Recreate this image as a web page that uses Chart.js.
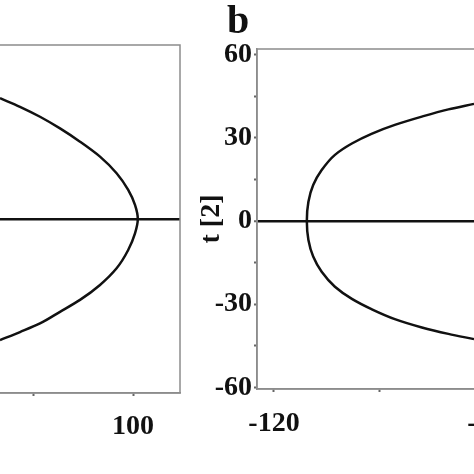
<!DOCTYPE html>
<html>
<head>
<meta charset="utf-8">
<script src="https://cdn.jsdelivr.net/npm/chart.js@4.4.1/dist/chart.umd.min.js"></script>
<style>
  html, body { margin: 0; padding: 0; width: 474px; height: 474px; overflow: hidden; background: #fff; }
  #wrap { position: relative; width: 474px; height: 474px; overflow: hidden; }
  canvas { position: absolute; top: 0; }
  #cL { left: -160px; }
  #cR { left: 180px; }
</style>
</head>
<body>
<div id="wrap">
  <canvas id="cL" width="350" height="474"></canvas>
  <canvas id="cR" width="360" height="474"></canvas>
</div>
<script>
// ---- Panel a (left, partially visible) ----
const leftX = [66.75, 71.75, 76.75, 81.75, 86.75, 91.75, 95.9, 98.8, 100.5, 101.2, 100.5, 98.8, 95.9, 91.75, 86.75, 81.75, 76.75, 71.75, 66.75];
const leftT = [43.6, 40.5, 36.9, 32.7, 27.9, 22.5, 16.5, 10.5, 5.1, 0, -5.2, -11.2, -17.8, -23.8, -29.2, -33.5, -37.7, -40.8, -43.7];
const leftXLabels = [50, 100];

// ---- Panel b (right) ----
const rightX = [-82.26, -87.1, -92.1, -97.2, -101.6, -105.3, -108.5, -111.0, -112.6, -113.5, -113.8, -113.5, -112.6, -111.0, -108.5, -105.3, -101.6, -97.2, -92.1, -87.1, -82.26];
const rightT = [42.3, 40.3, 37.7, 34.7, 31.5, 28.0, 23.9, 18.4, 13.0, 7.0, 0, -6.8, -12.8, -18.3, -23.7, -28.1, -31.8, -35.4, -38.4, -40.7, -42.6];
const rightXLabels = [-120, -80];

const tLabels = [-60, -30, 0, 30, 60];
const panelLetter = 'b';
const yTitle = 't [2]';

const FONT = '"Liberation Serif", "Times New Roman", serif';
const INK = '#111';
const AXIS = '#8c8c8c';

function pts(xs, ys) { return xs.map((x, i) => ({ x: x, y: ys[i] })); }

const framePlugin = {
  id: 'frame',
  beforeDatasetsDraw(chart) {
    const a = chart.chartArea, ctx = chart.ctx;
    ctx.save();
    ctx.strokeStyle = AXIS;
    ctx.lineWidth = 1.5;
    ctx.strokeRect(a.left, a.top, a.right - a.left, a.bottom - a.top);
    ctx.restore();
  }
};

function makeOptions(cfg) {
  return {
    responsive: false,
    animation: false,
    devicePixelRatio: 1,
    layout: { padding: cfg.padding },
    plugins: { legend: { display: false }, tooltip: { enabled: false }, title: { display: false } },
    scales: {
      x: {
        type: 'linear',
        min: cfg.xmin, max: cfg.xmax,
        afterFit(s) { s.height = cfg.xHeight; },
        border: { display: true, color: AXIS, width: 1.5 },
        grid: { drawOnChartArea: false, drawTicks: true, tickLength: 3, tickColor: '#666', tickWidth: 2 },
        ticks: {
          stepSize: cfg.xStep, includeBounds: false, padding: cfg.xPad, maxRotation: 0, autoSkip: false,
          color: INK, font: { family: FONT, size: 28, weight: 'bold' },
          callback: (v) => cfg.xLabels.includes(v) ? String(v) : ''
        }
      },
      y: {
        type: 'linear',
        min: cfg.ymin, max: cfg.ymax,
        afterFit(s) { s.width = cfg.yWidth; },
        border: { display: true, color: AXIS, width: 1.5 },
        grid: {
          drawOnChartArea: true, drawTicks: true, tickLength: 3, tickColor: '#666', tickWidth: 2,
          color: (c) => (c.tick && c.tick.value === 0) ? INK : 'rgba(0,0,0,0)',
          lineWidth: (c) => (c.tick && c.tick.value === 0) ? 2.5 : 1
        },
        ticks: {
          stepSize: 15, includeBounds: false, padding: 2, autoSkip: false,
          color: INK, font: { family: FONT, size: 28, weight: 'bold' },
          callback: (v) => tLabels.includes(v) ? String(v) : ''
        },
        title: cfg.yTitle ? {
          display: true, text: cfg.yTitle, color: INK,
          font: { family: FONT, size: 28, weight: 'bold' },
          padding: { top: 15, bottom: 0 }
        } : { display: false }
      }
    }
  };
}

function curveDataset(data) {
  return {
    data: data, showLine: true, pointRadius: 0, borderColor: INK, borderWidth: 2.5,
    indexAxis: 'y', cubicInterpolationMode: 'monotone', fill: false
  };
}

new Chart(document.getElementById('cL'), {
  type: 'scatter',
  data: { datasets: [curveDataset(pts(leftX, leftT))] },
  options: makeOptions({
    padding: { top: 45, right: 10, bottom: 0, left: 0 },
    xmin: 41.75, xmax: 111.75, xStep: 25, xLabels: leftXLabels, xHeight: 81, xPad: 14,
    ymin: -62.8, ymax: 62.8, yWidth: 60, yTitle: null
  }),
  plugins: [framePlugin]
});

const letterPlugin = {
  id: 'letter',
  afterDraw(chart) {
    const ctx = chart.ctx;
    ctx.save();
    ctx.fillStyle = INK;
    ctx.font = 'bold 40px ' + FONT;
    ctx.textBaseline = 'alphabetic';
    ctx.textAlign = 'left';
    ctx.fillText(panelLetter, 47, 33);
    ctx.restore();
  }
};

new Chart(document.getElementById('cR'), {
  type: 'scatter',
  data: { datasets: [curveDataset(pts(rightX, rightT))] },
  options: makeOptions({
    padding: { top: 49, right: 10, bottom: 0, left: 0 },
    xmin: -123.2, xmax: -71.7, xStep: 20, xLabels: rightXLabels, xHeight: 85, xPad: 15,
    ymin: -60.6, ymax: 62.1, yWidth: 77, yTitle: yTitle
  }),
  plugins: [framePlugin, letterPlugin]
});
</script>
</body>
</html>
